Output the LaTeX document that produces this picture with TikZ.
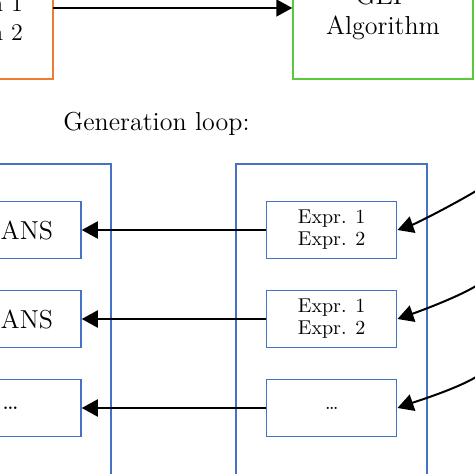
\documentclass[tikz,border=0pt]{standalone}
\usepackage{tikz}
\usetikzlibrary{arrows.meta, positioning}
\definecolor{boxorange}{RGB}{237,125,49}
\definecolor{boxgreen}{RGB}{90,200,60}
\definecolor{boxblue}{RGB}{68,114,196}

\begin{document}
\begin{tikzpicture}[>={Triangle[length=8pt,width=8.5pt]}, x=0.5pt, y=-0.5pt,
    box/.style={draw, line width=0.75pt, inner sep=0pt},
    big/.style={font=\fontsize{13}{15}\selectfont},
    small/.style={font=\fontsize{10}{11}\selectfont},
    link/.style={->, line width=1pt}]

\useasboundingbox (0,0) rectangle (474,474);

% ── TOP: input and GEP ──────────────────────────────────────────
\node[box, draw=boxorange, minimum width=76.5pt, minimum height=61pt,
      text width=46.5pt, inner xsep=15pt, align=right,
      font=\fontsize{12}{14.5}\selectfont] (inputs) at (-23.5,18) {n 1\\n 2};
\node[box, draw=boxgreen, minimum width=90pt, minimum height=65.5pt,
      align=center, big] (gep) at (383,13.5) {GEP\\Algorithm};

\coordinate (feed) at (53,8);
\draw[link] (feed) -- (feed -| gep.west);

\node[big] (title) at (156.5,124) {Generation loop:};

% ── LOOP: containers ────────────────────────────────────────────
\node[box, draw=boxblue, minimum width=105.5pt, minimum height=178pt] (decoded) at (5.5,342) {};
\node[box, draw=boxblue, minimum width=95.5pt, minimum height=178pt] (genes) at (331.5,342) {};

% ── LOOP: rows ──────────────────────────────────────────────────
\foreach \row/\yy/\sy/\al/\ans/\expr in
    {1/230/191/right/ANS/{Expr. 1\\Expr. 2},
     2/319/286/right/ANS/{Expr. 1\\Expr. 2},
     3/408/377/center/\ldots/\ldots} {
    \node[box, draw=boxblue, minimum width=65pt, minimum height=28.3pt,
          align=center, small] (expr\row) at (331.7,\yy) {\expr};
    \node[box, draw=boxblue, minimum width=70.5pt, minimum height=28.3pt,
          text width=42.5pt, inner xsep=14pt, align=\al, big] (ans\row) at (10.5,\yy) {\ans};
    \draw[link] (expr\row) -- (ans\row);
    \coordinate (src\row) at (476,\sy);
    \draw[link] (src\row) .. controls +(-20,12) and +(20,-7) .. (expr\row.east);
}

\end{tikzpicture}
\end{document}
